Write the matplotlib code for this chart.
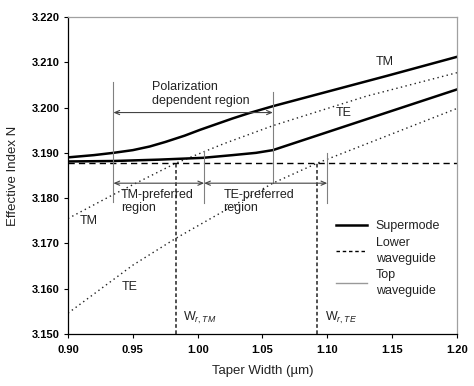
import matplotlib
matplotlib.use("Agg")
import matplotlib.pyplot as plt
from matplotlib.lines import Line2D

plt.rcParams['font.family'] = ['Liberation Sans', 'DejaVu Sans']
plt.rcParams['mathtext.fontset'] = 'custom'
plt.rcParams['mathtext.rm'] = 'Liberation Sans'
plt.rcParams['mathtext.it'] = 'Liberation Sans:italic'

# ---- data ----
sm_tm_x = [0.90, 0.92, 0.935, 0.95, 0.963, 0.975, 0.99, 1.002, 1.015, 1.027, 1.04, 1.058,
           1.10, 1.146, 1.20]
sm_tm_n = [3.1890, 3.1895, 3.1900, 3.1906, 3.1914, 3.1924, 3.1938, 3.1951, 3.1964, 3.1976,
           3.1988, 3.2003, 3.2035, 3.2070, 3.2112]

sm_te_x = [0.90, 0.935, 0.97, 1.004, 1.027, 1.045, 1.058, 1.13, 1.20]
sm_te_n = [3.1881, 3.1882, 3.1885, 3.1889, 3.1895, 3.1900, 3.1906, 3.1974, 3.2040]

lower_x = [0.90, 1.20]
lower_n = [3.1877, 3.1877]

top_tm_x = [0.90, 0.935, 0.983, 1.02, 1.058, 1.13, 1.20]
top_tm_n = [3.1755, 3.1808, 3.1877, 3.1920, 3.1960, 3.2025, 3.2077]

top_te_x = [0.90, 0.95, 0.983, 1.058, 1.092, 1.15, 1.20]
top_te_n = [3.1546, 3.1652, 3.1711, 3.1833, 3.1877, 3.1942, 3.1998]

w_r_tm = 0.983
w_r_te = 1.092
region_x = [0.935, 1.005, 1.058, 1.10]   # boundaries of regions
x_ticks = [0.90, 0.95, 1.00, 1.05, 1.10, 1.15, 1.20]
y_ticks = [3.150, 3.160, 3.170, 3.180, 3.190, 3.200, 3.210, 3.220]

# ---- figure ----
fig = plt.figure(figsize=(4.74, 3.86), dpi=100)
ax = fig.add_axes([0.1435, 0.1347, 0.8205, 0.8213])

dot_ls = (0, (1, 2.4))
ax.plot(top_tm_x, top_tm_n, color='#222222', lw=1.0, ls=dot_ls)
ax.plot(top_te_x, top_te_n, color='#222222', lw=1.0, ls=dot_ls)
ax.plot(lower_x, lower_n, color='black', lw=1.0, ls=(0, (4.5, 3)))
ax.plot(sm_tm_x, sm_tm_n, color='black', lw=1.8)
ax.plot(sm_te_x, sm_te_n, color='black', lw=1.8)

# resonance widths
ax.plot([w_r_tm, w_r_tm], [3.150, lower_n[0]], color='#333333', lw=1.2, ls=(0, (2.2, 1.5)))
ax.plot([w_r_te, w_r_te], [3.150, lower_n[0]], color='#333333', lw=1.2, ls=(0, (2.2, 1.5)))

# region boundaries (gray)
gcol = '#808080'
ax.plot([region_x[0]] * 2, [3.1792, 3.2057], color=gcol, lw=0.8)
ax.plot([region_x[1]] * 2, [3.1790, 3.1903], color=gcol, lw=0.8)
ax.plot([region_x[2]] * 2, [3.1833, 3.2035], color=gcol, lw=0.8)
ax.plot([region_x[3]] * 2, [3.1790, 3.1899], color=gcol, lw=0.8)

arrow_kw = dict(arrowstyle='<->,head_length=0.35,head_width=0.15', color='#444444', lw=0.8,
                shrinkA=0, shrinkB=0)
ax.annotate('', xy=(region_x[0], 3.1989), xytext=(region_x[2], 3.1989), arrowprops=arrow_kw)
ax.annotate('', xy=(region_x[0], 3.1833), xytext=(region_x[1], 3.1833), arrowprops=arrow_kw)
ax.annotate('', xy=(region_x[1], 3.1833), xytext=(region_x[3], 3.1833), arrowprops=arrow_kw)

tcol = '#222222'
fs = 9
ax.text(0.9648, 3.2058, 'Polarization\ndependent region', fontsize=fs, color=tcol,
        ha='left', va='top', linespacing=1.15)
ax.text(0.9409, 3.1820, 'TM-preferred\nregion', fontsize=fs, color=tcol,
        ha='left', va='top', linespacing=1.15)
ax.text(1.0198, 3.1820, 'TE-preferred\nregion', fontsize=fs, color=tcol,
        ha='left', va='top', linespacing=1.15)
ax.text(0.9093, 3.1750, 'TM', fontsize=fs, color=tcol, ha='left', va='center')
ax.text(0.9416, 3.1603, 'TE', fontsize=fs, color=tcol, ha='left', va='center')
ax.text(1.1375, 3.2100, 'TM', fontsize=fs, color=tcol, ha='left', va='center')
ax.text(1.1066, 3.1988, 'TE', fontsize=fs, color=tcol, ha='left', va='center')
ax.text(0.9887, 3.1536, r'W$_{\mathit{r,TM}}$', fontsize=fs, color=tcol, ha='left', va='center')
ax.text(1.0982, 3.1536, r'W$_{\mathit{r,TE}}$', fontsize=fs, color=tcol, ha='left', va='center')

ax.set_xlim(0.90, 1.20)
ax.set_ylim(3.150, 3.220)
ax.set_xticks(x_ticks)
ax.set_yticks(y_ticks)
ax.set_xticklabels([f'{v:.2f}' for v in x_ticks], fontweight='bold', fontsize=8)
ax.set_yticklabels([f'{v:.3f}' for v in y_ticks], fontweight='bold', fontsize=8)
ax.tick_params(direction='out', length=3, width=0.8, color='black')
ax.tick_params(axis='x', pad=5)
ax.tick_params(axis='y', pad=3)

for s in ['left', 'bottom']:
    ax.spines[s].set_color('black')
    ax.spines[s].set_linewidth(0.9)
for s in ['top', 'right']:
    ax.spines[s].set_color('#a0a0a0')
    ax.spines[s].set_linewidth(0.9)

ax.set_xlabel('Taper Width (µm)', fontsize=9.5, color=tcol)
ax.set_ylabel('Effective Index N', fontsize=9.5, color=tcol)
ax.xaxis.set_label_coords(0.5, -0.098)
ax.yaxis.set_label_coords(-0.125, 0.5)

handles = [Line2D([], [], color='black', lw=1.8),
           Line2D([], [], color='black', lw=1.0, ls=(0, (2.5, 2))),
           Line2D([], [], color='#999999', lw=1.0)]
labels = ['Supermode', 'Lower\nwaveguide', 'Top\nwaveguide']
leg = ax.legend(handles, labels, loc='upper left', bbox_to_anchor=(0.672, 0.378),
                frameon=False, fontsize=fs, handlelength=2.5, handletextpad=0.7,
                labelspacing=0.35, borderpad=0)
for t in leg.get_texts():
    t.set_color(tcol)
    t.set_linespacing(1.45)

fig.savefig('out.png', dpi=100)
